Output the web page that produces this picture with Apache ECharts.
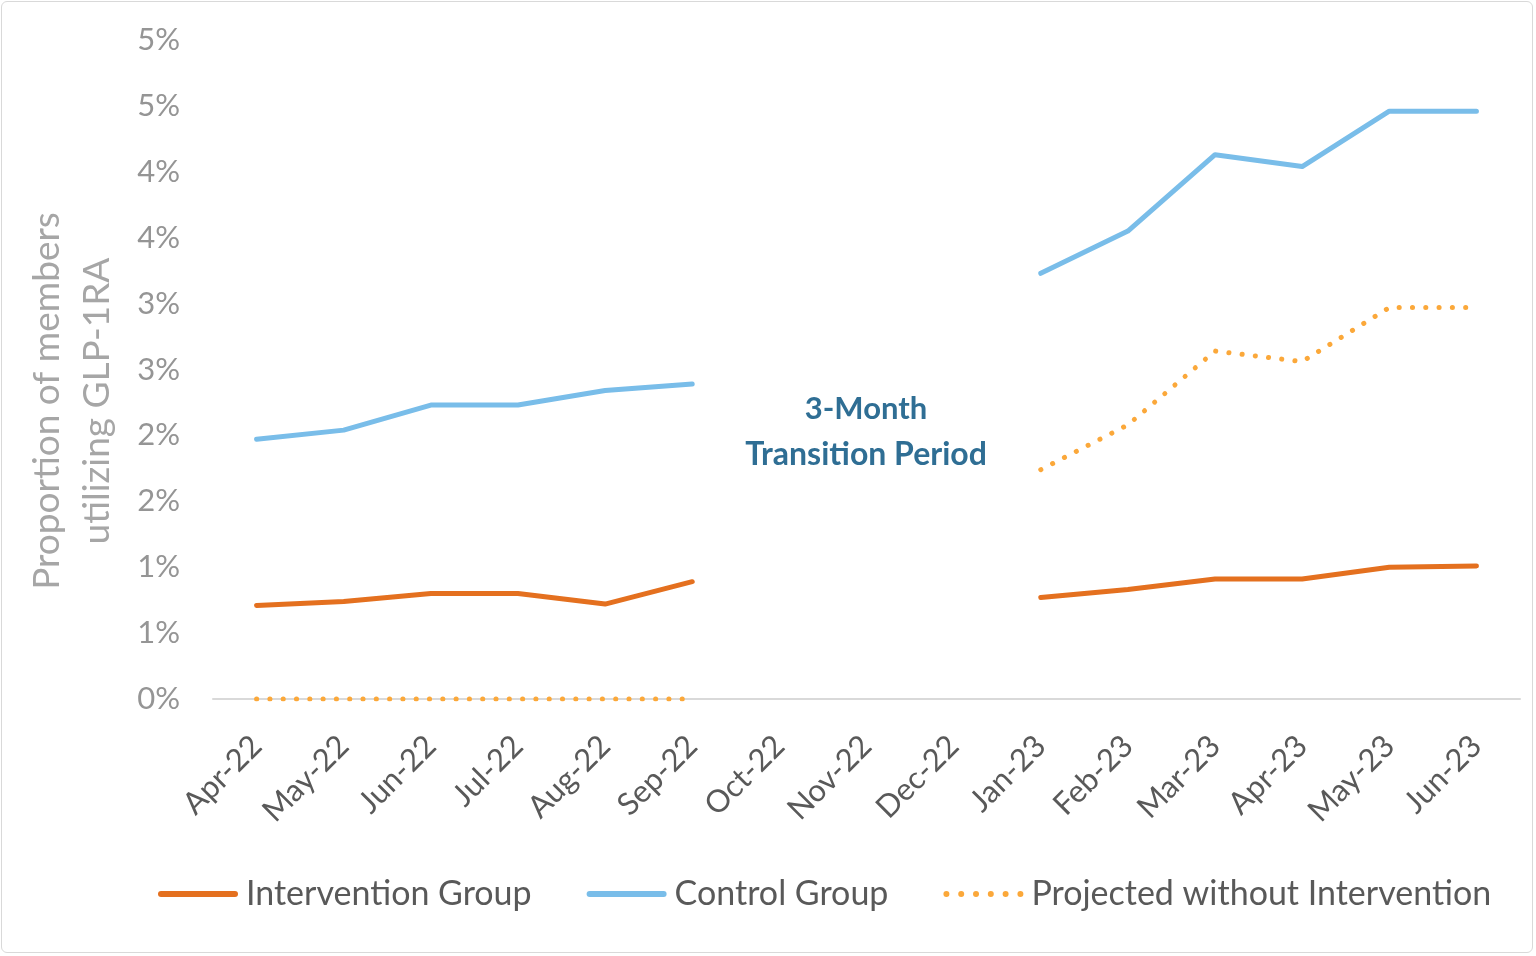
<!DOCTYPE html>
<html>
<head>
<meta charset="utf-8">
<script src="https://cdn.jsdelivr.net/npm/echarts@6/dist/echarts.min.js"></script>
<style>
  html, body { margin: 0; padding: 0; background: #fff; }
  #frame { position: absolute; left: 1px; top: 1px; width: 1532px; height: 952px; border: 1px solid #d9d9d9; border-radius: 6px; box-sizing: border-box; }
  #chart { position: absolute; left: 0; top: 0; width: 1536px; height: 956px; }
</style>
</head>
<body>
<div id="frame"></div>
<div id="chart"></div>
<script>
const categories = ['Apr-22','May-22','Jun-22','Jul-22','Aug-22','Sep-22','Oct-22','Nov-22','Dec-22','Jan-23','Feb-23','Mar-23','Apr-23','May-23','Jun-23'];
// values in percent
const interventionGroup = [0.71, 0.74, 0.80, 0.80, 0.72, 0.89, null, null, null, 0.77, 0.83, 0.91, 0.91, 1.00, 1.01];
const controlGroup = [1.97, 2.04, 2.23, 2.23, 2.34, 2.39, null, null, null, 3.23, 3.55, 4.13, 4.04, 4.46, 4.46];
const projectedWithoutIntervention = [0, 0, 0, 0, 0, 0, null, null, null, 1.74, 2.08, 2.64, 2.56, 2.97, 2.97];
const yTicks = { min: 0, max: 5, interval: 0.5 };
const seriesNames = ['Intervention Group', 'Control Group', 'Projected without Intervention'];
const annotationLines = ['3-Month', 'Transition Period'];
const yAxisTitle = ['Proportion of members', 'utilizing GLP-1RA'];

const FONT = 'Lato';
const ORANGE = '#E4701F', BLUE = '#79BDE9', LIGHT_ORANGE = '#FBA83A';
// legend icons: solid bar and six dots, both in an 80x6 box
const solidIcon = 'path://M3,0L77,0A3,3 0 0,1 77,6L3,6A3,3 0 0,1 3,0Z';
function dotsIcon() {
  let p = '';
  for (let i = 0; i < 6; i++) {
    const cx = 3 + i * 14.8;
    p += 'M' + (cx - 3) + ',3A3,3 0 1,0 ' + (cx + 3) + ',3A3,3 0 1,0 ' + (cx - 3) + ',3Z';
  }
  return 'path://' + p;
}

const chart = echarts.init(document.getElementById('chart'));
chart.setOption({
  animation: false,
  textStyle: { fontFamily: FONT },
  grid: { left: 213, right: 16, top: 40, bottom: 257, outerBoundsMode: 'none' },
  xAxis: {
    type: 'category',
    data: categories,
    boundaryGap: true,
    axisLine: { lineStyle: { color: '#d9d9d9', width: 2 } },
    axisTick: { show: false },
    axisLabel: { rotate: 45, color: '#595959', fontSize: 31, fontFamily: FONT, margin: 42, interval: 0 }
  },
  yAxis: {
    type: 'value',
    min: yTicks.min, max: yTicks.max, interval: yTicks.interval,
    axisLine: { show: false },
    axisTick: { show: false },
    splitLine: { show: false },
    axisLabel: {
      color: '#959595', fontSize: 31, fontFamily: FONT, margin: 33,
      formatter: v => Math.round(v + 1e-9) + '%'
    }
  },
  legend: {
    data: [
      { name: seriesNames[0], icon: solidIcon, itemStyle: { color: ORANGE } },
      { name: seriesNames[1], icon: solidIcon, itemStyle: { color: BLUE } },
      { name: seriesNames[2], icon: dotsIcon(), itemStyle: { color: LIGHT_ORANGE } }
    ],
    left: 158, top: 877, padding: 0,
    itemWidth: 80, itemHeight: 6, itemGap: 55,
    textStyle: { color: '#595959', fontSize: 34, fontFamily: FONT, padding: [0, 0, 0, 3] }
  },
  series: [
    {
      name: seriesNames[0], type: 'line', data: interventionGroup, symbol: 'none', connectNulls: false,
      lineStyle: { color: ORANGE, width: 5, cap: 'round', join: 'round' }, itemStyle: { color: ORANGE }
    },
    {
      name: seriesNames[1], type: 'line', data: controlGroup, symbol: 'none', connectNulls: false,
      lineStyle: { color: BLUE, width: 5, cap: 'round', join: 'round' }, itemStyle: { color: BLUE }
    },
    {
      name: seriesNames[2], type: 'line', data: projectedWithoutIntervention, symbol: 'none', connectNulls: false,
      lineStyle: { color: LIGHT_ORANGE, width: 5, type: [0.1, 13.2], cap: 'round' }, itemStyle: { color: LIGHT_ORANGE }
    }
  ],
  graphic: [
    {
      type: 'text', x: 866, y: 409,
      style: { text: annotationLines[0], font: 'bold 31px ' + FONT, fill: '#2F6E94', align: 'center', verticalAlign: 'middle' }
    },
    {
      type: 'text', x: 866, y: 455,
      style: { text: annotationLines[1], font: 'bold 32px ' + FONT, fill: '#2F6E94', align: 'center', verticalAlign: 'middle' }
    },
    {
      type: 'text', x: 47, y: 401, rotation: Math.PI / 2,
      style: { text: yAxisTitle[0], font: '37px ' + FONT, fill: '#a6a6a6', align: 'center', verticalAlign: 'middle' }
    },
    {
      type: 'text', x: 97, y: 401, rotation: Math.PI / 2,
      style: { text: yAxisTitle[1], font: '37px ' + FONT, fill: '#a6a6a6', align: 'center', verticalAlign: 'middle' }
    }
  ]
});
</script>
</body>
</html>
